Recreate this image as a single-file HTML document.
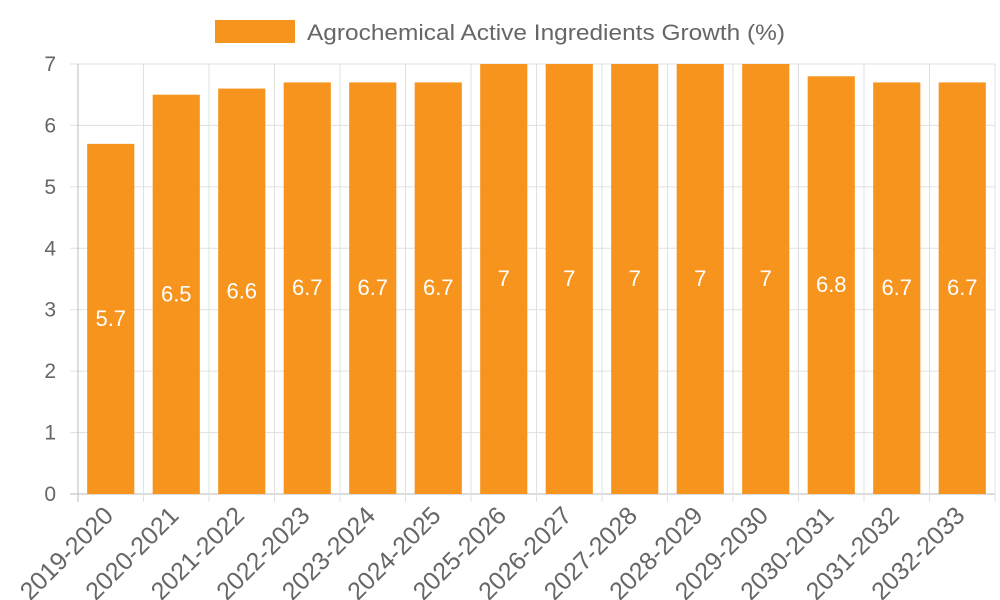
<!DOCTYPE html>
<html><head><meta charset="utf-8"><style>
html,body{margin:0;padding:0;background:#fff;}
svg{display:block;font-family:"Liberation Sans",sans-serif;}
</style></head><body>
<svg id="chart" width="1000" height="600">
<g>
<rect x="215" y="20" width="80" height="23" fill="#f7941d"></rect>
<text x="307" y="40" font-size="22" fill="#666" textLength="478" lengthAdjust="spacingAndGlyphs">Agrochemical Active Ingredients Growth (%)</text>
</g>
<g id="grid"></g><g id="bars"></g><g id="labels"></g><g id="axes"></g>
</svg>
<script>
const categories=["2019-2020","2020-2021","2021-2022","2022-2023","2023-2024","2024-2025","2025-2026","2026-2027","2027-2028","2028-2029","2029-2030","2030-2031","2031-2032","2032-2033"];
const values=[5.7,6.5,6.6,6.7,6.7,6.7,7,7,7,7,7,6.8,6.7,6.7];
const yTicks=[0,1,2,3,4,5,6,7];
const NS="http://www.w3.org/2000/svg";
const L=78,R=995,T=64,B=494,yMax=7;
const bw=(R-L)/categories.length;
const x=i=>L+i*bw;
const y=v=>B-(v/yMax)*(B-T);
function mk(tag,attrs,parent,text){const e=document.createElementNS(NS,tag);for(const k in attrs)e.setAttribute(k,attrs[k]);if(text!==undefined)e.textContent=text;document.getElementById(parent).appendChild(e);return e;}
yTicks.forEach(t=>{
 const g=mk('line',{x1:70,x2:R,y1:y(t),y2:y(t),stroke:t===0?'#bbb':'#e0e0e0','stroke-width':1},'grid');
 
 
 const tl=mk('text',{x:56,y:y(t)+7,'text-anchor':'end','font-size':21,fill:'#666'},'axes',String(t));
 
 
});
for(let i=0;i<=categories.length;i++){
 const g=mk('line',{x1:x(i),x2:x(i),y1:T,y2:B+8,stroke:i===0?'#bbb':'#e0e0e0','stroke-width':1},'grid');
 
 
}
categories.forEach((c,i)=>{
 const w=bw*0.72,cx=x(i)+bw/2;
 const r=mk('rect',{x:cx-w/2,y:y(values[i]),width:w,height:B-y(values[i]),fill:'#f7941d'},'bars');
 
 
 const vl=mk('text',{x:cx,y:(y(values[i])+B)/2+7,'text-anchor':'middle','font-size':22,fill:'#fff'},'labels',String(values[i]));
 
 
 const ax=cx+4,ay=B+23;
 const xl=mk('text',{x:ax,y:ay,'text-anchor':'end','font-size':25,fill:'#666',transform:`rotate(-45 ${ax} ${ay})`},'axes',c);
 
 
});
</script>
</body></html>
